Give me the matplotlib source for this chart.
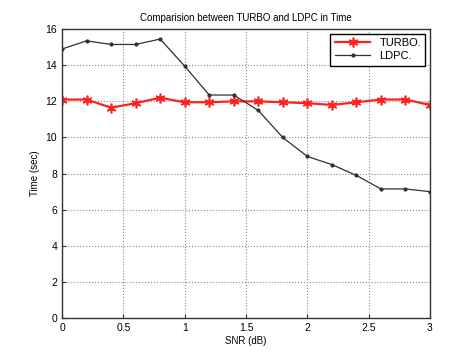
import numpy as np
import matplotlib.pyplot as plt

snr = [0, 0.2, 0.4, 0.6, 0.8, 1.0, 1.2, 1.4, 1.6, 1.8, 2.0, 2.2, 2.4, 2.6, 2.8, 3.0]
turbo = [12.1, 12.1, 11.65, 11.9, 12.2, 11.95, 11.95, 12.0, 12.0, 11.95,
         11.9, 11.8, 11.95, 12.1, 12.1, 11.8]
ldpc = [14.9, 15.35, 15.15, 15.15, 15.45, 13.95, 12.35, 12.35, 11.5, 10.0,
        8.95, 8.5, 7.9, 7.15, 7.15, 7.0]
xticks = [0, 0.5, 1, 1.5, 2, 2.5, 3]
yticks = [0, 2, 4, 6, 8, 10, 12, 14, 16]

plt.rcParams['font.family'] = ['Liberation Sans', 'DejaVu Sans']
fig = plt.figure(figsize=(4.74, 3.55), dpi=100)
ax = fig.add_axes([0.131, 0.104, 0.776, 0.814])

ax.plot(snr, turbo, '-', color='#ff2020', lw=1.6, marker=(6, 2, 0), ms=7, mew=1.2,
        label='TURBO.')
ax.plot(snr, ldpc, '-', color='#303030', lw=0.9, marker='.', ms=4,
        label='LDPC.')

ax.set_xlim(0, 3)
ax.set_ylim(0, 16)
ax.set_xticks(xticks)
ax.set_xticklabels(['0', '0.5', '1', '1.5', '2', '2.5', '3'])
ax.set_yticks(yticks)
ax.grid(True, ls=':', color='#888888', lw=0.8)
ax.tick_params(labelsize=7.5, direction='in', length=3, color='#333333')
for s in ax.spines.values():
    s.set_color('#333333')
    s.set_linewidth(1.0)

ax.set_title('Comparision between TURBO and LDPC in Time', fontsize=7, pad=6)
ax.set_xlabel('SNR (dB)', fontsize=7, labelpad=2)
ax.set_ylabel('Time (sec)', fontsize=7, labelpad=4)

leg = ax.legend(loc='upper right', fontsize=8, fancybox=False, framealpha=1,
                edgecolor='black', borderaxespad=0.4, handlelength=3.2,
                borderpad=0.4, labelspacing=0.3)
leg.get_frame().set_linewidth(1.0)

fig.savefig('out.png', dpi=100)
